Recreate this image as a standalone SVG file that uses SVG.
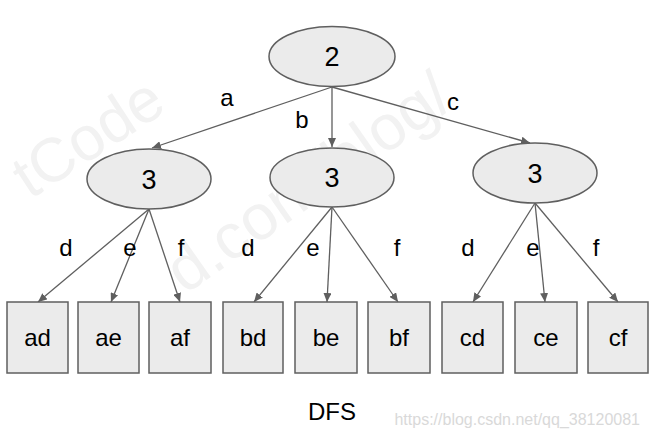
<svg xmlns="http://www.w3.org/2000/svg" width="649" height="444" viewBox="0 0 649 444">
<style>
.n{fill:#ebebeb;stroke:#5f5f5f;stroke-width:1.5}
.t{font-family:"Liberation Sans",Arial,sans-serif;fill:#000;text-anchor:middle}
.big{font-size:27px}
.box{font-size:24px}
.lbl{font-size:24px}
.e{stroke:#5f5f5f;stroke-width:1.3;fill:none;marker-end:url(#ah)}
.wm{font-family:"Liberation Sans",Arial,sans-serif;fill:#f2f2f2}
</style>
<defs>
<marker id="ah" markerWidth="10" markerHeight="8" refX="9" refY="4" orient="auto" markerUnits="userSpaceOnUse">
<path d="M0,0 L9,4 L0,8 z" fill="#5f5f5f"/>
</marker>
</defs>
<rect width="649" height="444" fill="#fff"/>
<g id="watermark">
<text class="wm" font-size="62" transform="translate(30,200) rotate(-33)">tCode</text>
<text class="wm" font-size="64" transform="translate(185,295) rotate(-35)">d.com/blog/</text>
</g>
<g id="edges">
<line class="e" x1="332" y1="87" x2="152" y2="148"/>
<line class="e" x1="332" y1="87" x2="332" y2="147"/>
<line class="e" x1="332" y1="87" x2="530" y2="143"/>
<line class="e" x1="149" y1="209" x2="38" y2="302"/>
<line class="e" x1="149" y1="209" x2="111" y2="302"/>
<line class="e" x1="149" y1="209" x2="180" y2="302"/>
<line class="e" x1="332" y1="207" x2="254" y2="302"/>
<line class="e" x1="332" y1="207" x2="327" y2="302"/>
<line class="e" x1="332" y1="207" x2="398" y2="302"/>
<line class="e" x1="535" y1="203" x2="473" y2="302"/>
<line class="e" x1="535" y1="203" x2="545" y2="302"/>
<line class="e" x1="535" y1="203" x2="618" y2="302"/>
<g class="t lbl">
<text x="227" y="106">a</text>
<text x="302" y="128">b</text>
<text x="453" y="110">c</text>
<text x="66" y="256">d</text>
<text x="130" y="256">e</text>
<text x="181" y="256">f</text>
<text x="248" y="256">d</text>
<text x="313" y="256">e</text>
<text x="397" y="256">f</text>
<text x="468" y="256">d</text>
<text x="533" y="256">e</text>
<text x="596" y="256">f</text>
</g>
</g>
<g id="root"><ellipse class="n" cx="332" cy="56.5" rx="63" ry="30"/><text class="t big" x="332" y="66">2</text></g>
<g id="na"><ellipse class="n" cx="149" cy="179" rx="62" ry="30"/><text class="t big" x="149" y="188.5">3</text></g>
<g id="nb"><ellipse class="n" cx="332" cy="177.5" rx="62" ry="29.5"/><text class="t big" x="332" y="187">3</text></g>
<g id="nc"><ellipse class="n" cx="535" cy="173" rx="62" ry="30"/><text class="t big" x="535" y="182.5">3</text></g>
<g id="ad"><rect class="n" x="7" y="302" width="61" height="71"/><text class="t box" x="37.5" y="346">ad</text></g>
<g id="ae"><rect class="n" x="78" y="302" width="61" height="71"/><text class="t box" x="108.5" y="346">ae</text></g>
<g id="af"><rect class="n" x="149" y="302" width="62" height="71"/><text class="t box" x="180" y="346">af</text></g>
<g id="bd"><rect class="n" x="223" y="302" width="60" height="71"/><text class="t box" x="253" y="346">bd</text></g>
<g id="be"><rect class="n" x="295" y="302" width="62" height="71"/><text class="t box" x="326" y="346">be</text></g>
<g id="bf"><rect class="n" x="368" y="302" width="62" height="71"/><text class="t box" x="399" y="346">bf</text></g>
<g id="cd"><rect class="n" x="442" y="302" width="61" height="71"/><text class="t box" x="472.5" y="346">cd</text></g>
<g id="ce"><rect class="n" x="515" y="302" width="62" height="71"/><text class="t box" x="546" y="346">ce</text></g>
<g id="cf"><rect class="n" x="588" y="302" width="60" height="71"/><text class="t box" x="618" y="346">cf</text></g>
<text class="t lbl" x="332" y="420" font-size="23">DFS</text>
<text font-family="'Liberation Sans',Arial,sans-serif" font-size="16" fill="#d9d9d9" x="640" y="425" text-anchor="end">https://blog.csdn.net/qq_38120081</text>
</svg>
